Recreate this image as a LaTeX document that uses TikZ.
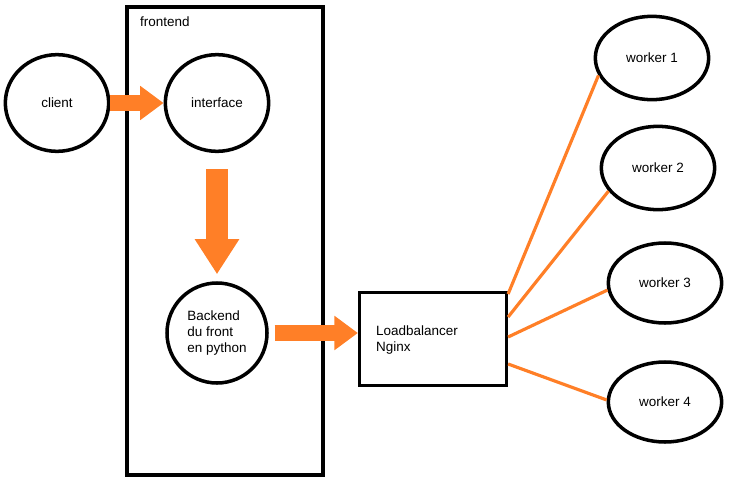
\documentclass[tikz,border=0pt]{standalone}
\usepackage{fontspec}
\setmainfont{Liberation Sans}
\usetikzlibrary{shapes.geometric,arrows.meta,calc}
\definecolor{orangeArrow}{RGB}{255,127,39}
\begin{document}
\begin{tikzpicture}[x=0.03cm,y=-0.03cm,
    bubble/.style={draw,ellipse,line width=3pt,inner sep=0pt,font=\fontsize{11.5}{14}\selectfont},
    box/.style={draw,line width=3pt},
    fat/.style={orangeArrow,line width=14pt,-{Triangle[width=28pt,length=20pt]}},
    link/.style={orangeArrow,line width=2.7pt}]
    \useasboundingbox (0,0) rectangle (750,500);
    % frontend container
    \draw[box] (127,7) rectangle (323,475);
    \node[anchor=west,font=\fontsize{11.5}{14}\selectfont] (frontlbl) at (136,22) {frontend};
    \node[bubble,minimum width=3.1cm,minimum height=2.9cm] (client) at (57,103) {client};
    \node[bubble,minimum width=3.1cm,minimum height=2.9cm] (iface) at (217,103) {interface};
    \node[bubble,minimum width=3cm,minimum height=3cm,align=left] (back) at (217,333) {Backend\\du front\\en python};
    \node[box,minimum width=4.4cm,minimum height=2.8cm,align=left,font=\fontsize{11.5}{14}\selectfont] (lb) at (433,339) {};
    \node[align=left,anchor=west,font=\fontsize{11.5}{14}\selectfont] (lbtext) at (372,340) {Loadbalancer\\Nginx};
    % workers
    \node[bubble,minimum width=3.4cm,minimum height=2.5cm] (w1) at (652,58) {worker 1};
    \node[bubble,minimum width=3.4cm,minimum height=2.5cm] (w2) at (658,168) {worker 2};
    \node[bubble,minimum width=3.4cm,minimum height=2.4cm] (w3) at (665,283) {worker 3};
    \node[bubble,minimum width=3.4cm,minimum height=2.4cm] (w4) at (665,402) {worker 4};
    % arrows
    \draw[fat] (client.east) -- (iface.west);
    \draw[fat,line width=18pt,-{Triangle[width=36pt,length=30pt]},shorten <=14pt,shorten >=6pt] (iface.south) -- (back.north);
    \draw[fat,shorten <=5pt] (back.east) -- (back.east -| lb.west);
    % links
    \draw[link] ($(lb.east)+(0,-45)$) -- (w1.198);
    \draw[link] ($(lb.east)+(0,-22)$) -- (w2.205);
    \draw[link] ($(lb.east)+(0,-2)$) -- (w3.187);
    \draw[link] ($(lb.east)+(0,25)$) -- (w4.178);
\end{tikzpicture}
\end{document}
